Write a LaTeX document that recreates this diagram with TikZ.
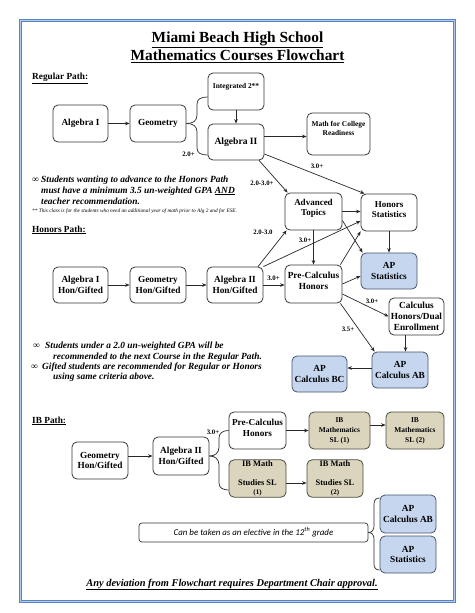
\documentclass[tikz,border=0pt]{standalone}
\usepackage{fontspec}
\setmainfont{Liberation Serif}
\newfontfamily\calib{Carlito}
\usetikzlibrary{arrows.meta,calc}
\definecolor{frameA}{RGB}{88,132,192}
\definecolor{frameB}{RGB}{178,203,236}
\definecolor{apfill}{RGB}{197,214,238}
\definecolor{apdraw}{RGB}{70,85,110}
\definecolor{ibfill}{RGB}{219,213,190}
\definecolor{ibdraw}{RGB}{75,75,65}
\definecolor{boxdraw}{RGB}{55,55,55}
\definecolor{linec}{RGB}{40,40,40}
\begin{document}
\begin{tikzpicture}[x=1pt,y=-1pt,
  box/.style={draw=boxdraw, line width=0.8pt, rounded corners=5pt, fill=white, align=center,
    font=\bfseries\fontsize{9.3}{10.7}\selectfont, inner sep=1pt},
  apbox/.style={box, fill=apfill, draw=apdraw},
  ibbox/.style={box, fill=ibfill, draw=ibdraw},
  lab/.style={align=center, inner sep=0pt, font=\bfseries\fontsize{9}{10.5}\selectfont},
  smalllab/.style={align=center, inner sep=0pt, font=\bfseries\fontsize{7.4}{9}\selectfont},
  arr/.style={-{Stealth[length=4.5pt,width=3.6pt]}, draw=linec, line width=0.7pt},
  ln/.style={draw=linec, line width=0.7pt},
  grade/.style={font=\bfseries\fontsize{6.8}{8}\selectfont, inner sep=0pt},
  heading/.style={font=\bfseries\fontsize{9.3}{11}\selectfont, anchor=base west, inner sep=0pt},
  notes/.style={font=\bfseries\itshape\fontsize{9.4}{11}\selectfont, anchor=base west, inner sep=0pt}
]
\useasboundingbox (0,0) rectangle (474,613);
\fill[white] (0,0) rectangle (474,613);
% frame
\draw[frameA, line width=3pt] (20,20.5) rectangle (454,601);
\draw[frameB, line width=1pt] (20,20.5) rectangle (454,601);

% title
\node[font=\bfseries\fontsize{15.4}{18}\selectfont, anchor=base, inner sep=0pt] (t1) at (237.5,42.5) {\underline{Miami Beach High School}};
\node[font=\bfseries\fontsize{15.4}{18}\selectfont, anchor=base, inner sep=0pt] (t2) at (237.5,60.5) {\underline{Mathematics Courses Flowchart}};

% headings
\node[heading] (hreg) at (32,79.5) {\underline{Regular Path:}};
\node[heading] (hhon) at (32,232) {\underline{Honors Path:}};
\node[heading] (hib) at (32,423) {\underline{IB Path:}};

% ---------- Regular path ----------
\node[box, minimum width=55pt, minimum height=37pt] (alg1) at (80.5,123.5) {Algebra I};
\node[box, minimum width=56pt, minimum height=37pt] (geom) at (158,123.5) {Geometry};
\node[box, minimum width=56pt, minimum height=37pt,
  label={[smalllab, yshift=4.5pt]center:Integrated 2**}] (int2) at (236,91.5) {};
\node[box, minimum width=56pt, minimum height=36pt, font=\bfseries\fontsize{9.6}{11}\selectfont] (alg2) at (236,142) {Algebra II};
\node[box, minimum width=63pt, minimum height=42pt,
  label={[smalllab, yshift=6pt]center:Math for College\\Readiness}] (mcr) at (338.5,134) {};
\node[box, minimum width=57pt, minimum height=37pt,
  label={[lab, yshift=3pt]center:Advanced\\Topics}] (adv) at (313.5,211.5) {};
\node[box, minimum width=56pt, minimum height=37pt,
  label={[lab, yshift=3pt]center:Honors\\Statistics}] (hstat) at (389,212.5) {};
\node[apbox, minimum width=56pt, minimum height=36pt] (apstat) at (389,271) {AP\\Statistics};

% ---------- Honors path ----------
\node[box, minimum width=55pt, minimum height=36pt] (alg1h) at (80.5,285) {Algebra I\\Hon/Gifted};
\node[box, minimum width=56pt, minimum height=36pt] (geomh) at (158,285) {Geometry\\Hon/Gifted};
\node[box, minimum width=56pt, minimum height=36pt] (alg2h) at (235,285) {Algebra II\\Hon/Gifted};
\node[box, minimum width=57pt, minimum height=38pt,
  label={[lab, font=\bfseries\fontsize{9.3}{10.7}\selectfont, yshift=3pt]center:Pre-Calculus\\Honors}] (pch) at (313.5,284) {};
\node[box, minimum width=55pt, minimum height=37pt] (calc) at (416.5,316.5) {Calculus\\Honors/Dual\\Enrollment};
\node[apbox, minimum width=56pt, minimum height=36pt] (apab) at (400,370) {AP\\Calculus AB};
\node[apbox, minimum width=55pt, minimum height=36pt] (apbc) at (319.5,374) {AP\\Calculus BC};

% ---------- IB path ----------
\node[box, minimum width=57pt, minimum height=37pt,
  label={[lab, font=\bfseries\fontsize{9.2}{10.7}\selectfont, yshift=3pt]center:Pre-Calculus\\Honors}] (pcib) at (257.5,430.5) {};
\node[ibbox, minimum width=61pt, minimum height=37pt, font=\bfseries\fontsize{7.4}{10}\selectfont] (ibsl1) at (339.5,430.5) {IB\\Mathematics\\SL (1)};
\node[ibbox, minimum width=58pt, minimum height=37pt, font=\bfseries\fontsize{7.4}{10}\selectfont] (ibsl2) at (415,430.5) {IB\\Mathematics\\SL (2)};
\node[box, minimum width=56pt, minimum height=37pt] (geomib) at (100,460.5) {Geometry\\Hon/Gifted};
\node[box, minimum width=56pt, minimum height=38pt] (alg2ib) at (181,456) {Algebra II\\Hon/Gifted};
\node[ibbox, minimum width=57pt, minimum height=37pt, font=\bfseries\fontsize{8.4}{9.5}\selectfont] (st1) at (257.5,478.5)
  {IB Math\\[9pt]Studies SL\\{\fontsize{7}{8}\selectfont(1)}};
\node[ibbox, minimum width=56pt, minimum height=37pt, font=\bfseries\fontsize{8.4}{9.5}\selectfont] (st2) at (335,478.5)
  {IB Math\\[9pt]Studies SL\\{\fontsize{7}{8}\selectfont(2)}};
\node[draw=boxdraw, line width=0.7pt, rounded corners=3pt, minimum width=229pt, minimum height=19pt, inner sep=1pt,
  font=\calib\itshape\fontsize{8.9}{10}\selectfont] (note) at (253.5,532.5) {Can be taken as an elective in the 12\textsuperscript{th} grade};
\node[apbox, minimum width=56pt, minimum height=38pt] (apab2) at (408,514) {AP\\Calculus AB};
\node[apbox, minimum width=56pt, minimum height=37pt] (apst2) at (408,554.5) {AP\\Statistics};

% ---------- Regular connectors ----------
\draw[arr] (alg1.east) -- (geom.west);
\draw[ln] (geom.east) .. controls (193,123.5) and (197,121) .. (197,115) -- (197,104)
  .. controls (197,99) and (201,97) .. ([yshift=-5.5pt]int2.west);
\draw[ln] (geom.east) .. controls (193,123.5) and (197,126) .. (197,132) -- (197,148)
  .. controls (197,153) and (201,155) .. ([yshift=-13pt]alg2.west);
\draw[arr] (int2.south) -- (alg2.north);
\draw[arr] ([yshift=5.5pt]alg2.east) -- ([yshift=5.5pt]alg2.east -| mcr.west);
\draw[arr] ([yshift=-12pt]alg2.east) -- ([xshift=4pt]hstat.north west);
\draw[arr] ([xshift=23pt]alg2.south) -- ([xshift=3pt]adv.north west);
\node[grade] (g1) at (188.5,154.5) {2.0+};
\node[grade] (g2) at (317,166.7) {3.0+};
\node[grade] (g3) at (262,183) {2.0-3.0+};

% ---------- Honors connectors ----------
\draw[arr] (alg1h.east) -- (geomh.west);
\draw[arr] (geomh.east) -- (alg2h.west);
\draw[arr] (alg2h.east) -- (alg2h.east -| pch.west);
\draw[arr] ([xshift=23pt]alg2h.north) -- ([xshift=2pt]adv.south west);
\draw[arr] (alg2h.north east) -- ([yshift=-8.5pt]hstat.west);
\draw[arr] (adv.south) -- (adv.south |- pch.north);
\draw[arr] (adv.east) -- (adv.east -| hstat.west);
\draw[arr] ([yshift=-9pt]adv.east) -- ([xshift=2pt]apstat.north west);
\draw[arr] (hstat.south) -- (apstat.north);
\draw[arr] ([xshift=-2pt]pch.north east) -- (hstat.south west);
\draw[arr] (pch.east) -- ([yshift=-5pt]apstat.west);
\draw[arr] ([yshift=-10pt]pch.east) -- (calc.west);
\draw[arr] ([xshift=-2pt]pch.south east) -- ([xshift=3pt]apab.north west);
\draw[arr] ([xshift=-11pt]calc.south) -- ([xshift=-11pt]calc.south |- apab.north);
\draw[arr] ([yshift=2pt]apab.west) -- ([yshift=2pt]apab.west -| apbc.east);
\node[grade] (g4) at (263,232.7) {2.0-3.0};
\node[grade] (g5) at (305,240.7) {3.0+};
\node[grade] (g6) at (273.5,278.3) {3.0+};
\node[grade] (g7) at (372,301) {3.0+};
\node[grade] (g8) at (348,329) {3.5+};

% ---------- IB connectors ----------
\draw[arr] (geomib.east |- alg2ib.west) -- (alg2ib.west);
\draw[ln] (alg2ib.east) .. controls (215,456) and (219,453) .. (219,447) -- (219,438)
  .. controls (219,433) and (223,430.5) .. (pcib.west);
\draw[ln] (alg2ib.east) .. controls (215,456) and (219,459) .. (219,465) -- (219,483)
  .. controls (219,488) and (223,490) .. ([yshift=-11.5pt]st1.west);
\node[grade] (g9) at (213,432) {3.0+};
\draw[arr] (pcib.east) -- (ibsl1.west);
\draw[arr] ([yshift=5.5pt]ibsl1.east) -- ([yshift=5.5pt]ibsl1.east -| ibsl2.west);
\draw[arr] ([yshift=-4.5pt]st1.east) -- ([yshift=-4.5pt]st1.east -| st2.west);
\draw[ln] (note.east) .. controls (372,532.5) and (374,530) .. (374,526) -- (374,504)
  .. controls (374,500) and (376,498) .. ([yshift=16pt]apab2.west);
\draw[ln] (note.east) .. controls (372,532.5) and (374,535) .. (374,539) -- (374,564)
  .. controls (374,568) and (376,570) .. ([yshift=-15.5pt]apst2.west);

% ---------- Notes ----------
\node[notes] (n1a) at (32,182) {\makebox[9pt][l]{∞}Students wanting to advance to the Honors Path};
\node[notes] (n1b) at (41,193) {must have a minimum 3.5 un-weighted GPA \underline{AND}};
\node[notes] (n1c) at (41,204) {teacher recommendation.};
\node[font=\itshape\fontsize{5.3}{6}\selectfont, anchor=base west, inner sep=0pt] (fn) at (32,212.5)
  {** This class is for the students who need an additional year of math prior to Alg 2 and for ESE.};
\node[notes] (n2a) at (33,348) {\makebox[12pt][l]{∞}Students under a 2.0 un-weighted GPA will be};
\node[notes] (n2b) at (53,359) {recommended to the next Course in the Regular Path.};
\node[notes] (n2c) at (31,369) {\makebox[11pt][l]{∞}Gifted students are recommended for Regular or Honors};
\node[notes] (n2d) at (53,379.5) {using same criteria above.};

\node[font=\bfseries\itshape\fontsize{10.4}{12}\selectfont, anchor=base, inner sep=0pt] (dev) at (232,586)
  {\underline{Any deviation from Flowchart requires Department Chair approval.}};
\end{tikzpicture}
\end{document}
